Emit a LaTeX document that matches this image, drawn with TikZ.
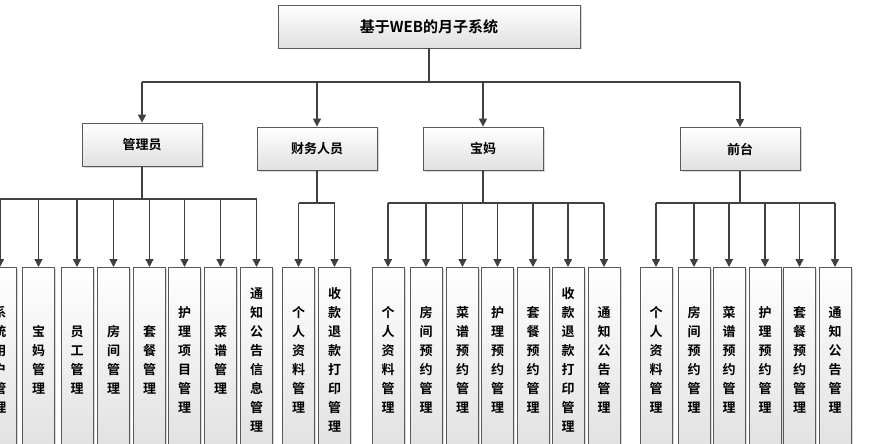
\documentclass[tikz,border=0pt]{standalone}
\usepackage{fontspec}
\newfontfamily\cjk{Noto Sans CJK SC}[BoldFont={* Bold}]
\usetikzlibrary{arrows.meta,shadows}
\begin{document}
\begin{tikzpicture}[x=1pt,y=-1pt,
  box/.style={draw=black!65,line width=0.8pt,top color=white,bottom color=black!12,
     drop shadow={shadow xshift=1.5pt,shadow yshift=-1.5pt,fill=black!25,opacity=0.6},
     inner sep=0pt,font=\cjk\bfseries},
  role/.style={box,minimum width=120pt,minimum height=43pt,font=\cjk\bfseries\fontsize{13}{15}\selectfont},
  leaf/.style={box,minimum width=32pt,minimum height=185pt,align=center,font=\cjk\bfseries\fontsize{13}{19}\selectfont},
  conn/.style={draw=black!75,line width=1.3pt},
  arr/.style={conn,-{Triangle[length=8pt,width=8pt]}}]
\useasboundingbox (0,0) rectangle (887,444);
\clip (0,0) rectangle (887,444);
\fill[white] (0,0) rectangle (887,444);
\node[role,minimum width=302pt,font=\cjk\bfseries\fontsize{15}{17}\selectfont] (top) at (429,26.5) {基于WEB的月子系统};
\node[role] (a) at (142,144.5) {管理员};
\node[role] (b) at (317,148.5) {财务人员};
\node[role] (c) at (483,148.5) {宝妈};
\node[role] (d) at (740,149) {前台};
\coordinate (t0) at (429,82);
\draw[conn] (top.south) -- (t0);
\draw[conn] (a.north |- t0) -- (d.north |- t0);
\foreach \n in {a,b,c,d}{\draw[arr] (\n.north |- t0) -- (\n.north);}
% leaves
\foreach \n/\x/\t in {
 a1/0/系\\统\\用\\户\\管\\理, a2/38.5/宝\\妈\\管\\理, a3/77/员\\工\\管\\理, a4/113.5/房\\间\\管\\理,
 a5/149.5/套\\餐\\管\\理, a6/184.5/护\\理\\项\\目\\管\\理, a7/220.5/菜\\谱\\管\\理, a8/256.5/通\\知\\公\\告\\信\\息\\管\\理,
 b1/298.5/个\\人\\资\\料\\管\\理, b2/334.5/收\\款\\退\\款\\打\\印\\管\\理,
 c1/388/个\\人\\资\\料\\管\\理, c2/426/房\\间\\预\\约\\管\\理, c3/462.5/菜\\谱\\预\\约\\管\\理, c4/497.5/护\\理\\预\\约\\管\\理,
 c5/533/套\\餐\\预\\约\\管\\理, c6/568/收\\款\\退\\款\\打\\印\\管\\理, c7/604/通\\知\\公\\告\\管\\理,
 d1/656/个\\人\\资\\料\\管\\理, d2/694/房\\间\\预\\约\\管\\理, d3/729/菜\\谱\\预\\约\\管\\理, d4/765/护\\理\\预\\约\\管\\理,
 d5/799.5/套\\餐\\预\\约\\管\\理, d6/835/通\\知\\公\\告\\管\\理}{
 \node[leaf,anchor=north] (\n) at (\x,267) {\t};}
\coordinate (ab) at (142,199);
\draw[conn] (a.south) -- (ab);
\draw[conn] (0,199) -- (257,199);
\foreach \n in {a1,a2,a3,a4,a5,a6,a7,a8}{\draw[arr] (ab -| \n) -- (\n.north);}
\coordinate (bb) at (317,203);
\draw[conn] (b.south) -- (bb);
\draw[conn] (b1 |- bb) -- (b2 |- bb);
\foreach \n in {b1,b2}{\draw[arr] (bb -| \n) -- (\n.north);}
\coordinate (cb) at (483,203);
\draw[conn] (c.south) -- (cb);
\draw[conn] (c1 |- cb) -- (c7 |- cb);
\foreach \n in {c1,c2,c3,c4,c5,c6,c7}{\draw[arr] (cb -| \n) -- (\n.north);}
\coordinate (db) at (740,203);
\draw[conn] (d.south) -- (db);
\draw[conn] (d1 |- db) -- (d6 |- db);
\foreach \n in {d1,d2,d3,d4,d5,d6}{\draw[arr] (db -| \n) -- (\n.north);}
\end{tikzpicture}
\end{document}
